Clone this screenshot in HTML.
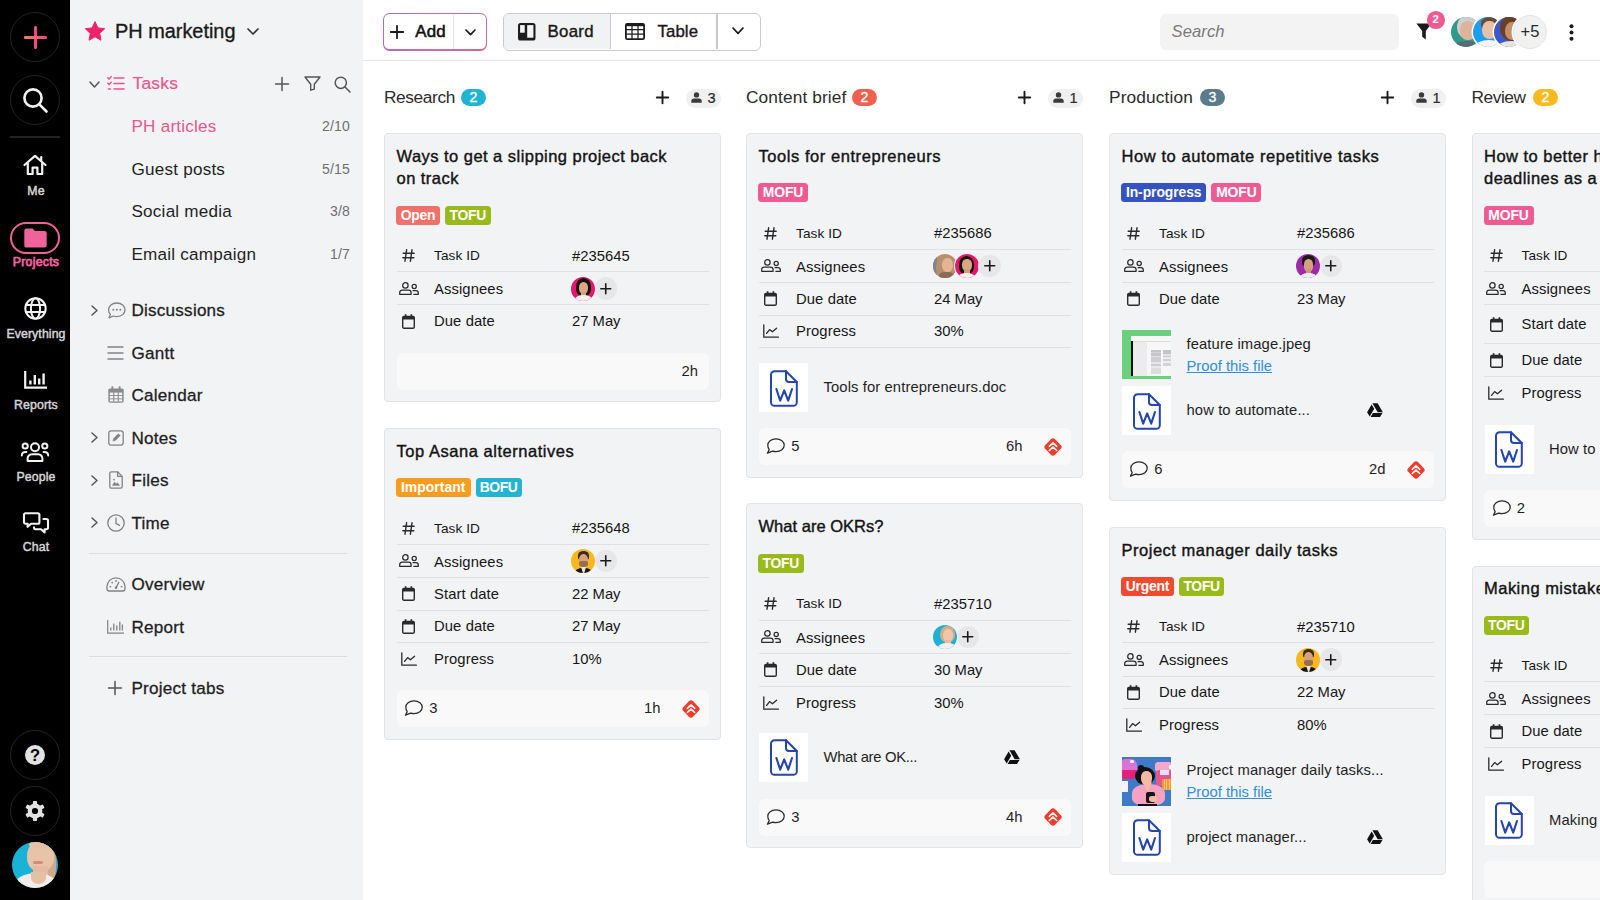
<!DOCTYPE html>
<html lang="en">
<head>
<meta charset="utf-8">
<title>PH marketing – Board</title>
<style>
*{box-sizing:border-box;margin:0;padding:0}
html,body{width:1600px;height:900px;overflow:hidden;background:#fff}
body{font-family:"Liberation Sans",Arial,sans-serif;color:#1c1c1c;position:relative;-webkit-font-smoothing:antialiased}
.abs{position:absolute}
svg{display:block;overflow:visible}
/* ---------- rail ---------- */
#rail{position:absolute;left:0;top:0;width:70px;height:900px;background:#000}
.rc{position:absolute;left:10px;width:50px;height:50px;border-radius:50%;border:1.5px solid #222}
.rl{position:absolute;left:1px;width:70px;text-align:center;font-size:12.3px;color:#d6d6d6;line-height:14px;-webkit-text-stroke:.45px #d6d6d6;letter-spacing:.1px}
.ri{position:absolute;left:0;width:70px;display:flex;justify-content:center}
/* ---------- sidebar ---------- */
#side{position:absolute;left:70px;top:0;width:293px;height:900px;background:#f2f3f5}
.sl{position:absolute;left:61.5px;font-size:17.1px;line-height:22px;color:#1f1f1f;white-space:nowrap;-webkit-text-stroke:.3px #1f1f1f;letter-spacing:.22px}
.sl.sub{-webkit-text-stroke:0}
.sc{position:absolute;right:13px;margin-top:-1px;font-size:14px;line-height:22px;color:#6f6f6f;letter-spacing:.2px}
.si{position:absolute}
.hr{position:absolute;left:19px;width:258px;height:1.5px;background:#dcdde0}
/* ---------- main ---------- */
#main{position:absolute;left:363px;top:0;width:1237px;height:900px;background:#fff;overflow:hidden}
#topline{position:absolute;left:0;top:60px;width:1237px;height:1px;background:#e1e2e4}
.col{position:absolute;top:0;width:337px}
.ch{position:absolute;left:0;top:86px;height:22px;font-size:17.3px;line-height:22px;color:#2b2b2b;white-space:nowrap}
.bd{position:absolute;top:89px;width:25px;height:17px;border-radius:9px;color:#fff;font-size:14.2px;line-height:17.5px;text-align:center;-webkit-text-stroke:.3px #fff}
.pp{position:absolute;left:302px;top:88.5px;width:35px;height:19px;border-radius:9.5px;background:#f0f0f1;font-size:14.6px;line-height:18.5px;color:#2a2a2a;-webkit-text-stroke:.2px #2a2a2a}
.card{position:absolute;left:0;width:337px;background:#f2f3f5;border:1px solid #e1e3e5;border-radius:4px;padding:11.5px 11.5px 0 11.5px}
.tt{position:relative;top:-.7px;font-size:16.5px;line-height:22.5px;color:#141414;-webkit-text-stroke:.4px #141414;white-space:nowrap;margin-bottom:15px}
.tags{height:19.5px;display:flex;gap:5px;margin-bottom:15px;margin-left:-.5px}
.tg{height:19.2px;border-radius:3.5px;color:#fff;font-size:13.9px;line-height:19.2px;font-weight:bold;white-space:nowrap;text-align:center;display:block;overflow:hidden}
.row{position:relative;height:32.7px;border-bottom:1.5px solid #dfe0e3;display:flex;align-items:center}
.row.nb{border-bottom-color:transparent}
.row .ic{position:absolute;left:3px;top:0;width:18px;height:100%;display:flex;align-items:center;justify-content:center}
.row .lb{position:absolute;left:37.5px;top:0;height:100%;display:flex;align-items:center;font-size:14.8px;color:#161616;white-space:nowrap;letter-spacing:.1px}
.row .lb.sm{font-size:13.6px}
.row .vl{position:absolute;left:175.5px;top:0;height:100%;display:flex;align-items:center;font-size:14.8px;color:#161616;white-space:nowrap}
.ft{position:relative;height:37px;border-radius:6px;background:#f9f9fa;margin-top:14.5px;font-size:14.8px;line-height:37px;color:#1f1f1f}
.att{position:relative;height:50px}
.att .th{position:absolute;left:.5px;top:.5px;width:49px;height:49px;background:#fff;overflow:hidden}
.att .nm{position:absolute;left:65px;font-size:14.8px;line-height:18px;color:#1f1f1f;white-space:nowrap;letter-spacing:.1px}
.att .pf{position:absolute;left:65px;top:27px;font-size:14.8px;line-height:18px;color:#2f8fd8;text-decoration:underline;white-space:nowrap}
.av{position:absolute;border-radius:50%;overflow:hidden}
</style>
</head>
<body>
<div id="rail">
<div class="rc" style="top:12.3px"></div>
<svg class="abs" style="left:23.5px;top:25.8px" width="23" height="23" viewBox="0 0 23 23"><defs><linearGradient id="gp" x1="0" y1="0" x2="1" y2="0"><stop offset="0" stop-color="#f5835c"/><stop offset="1" stop-color="#f0457d"/></linearGradient></defs><rect x="10" y="0" width="3" height="23" rx="1.2" fill="#f04a80"/><rect x="0" y="10" width="23" height="3" rx="1.2" fill="url(#gp)"/></svg>
<div class="rc" style="top:75px"></div>
<svg class="abs" style="left:21px;top:86px" width="28" height="28" viewBox="0 0 28 28" fill="none" stroke="#f2f2f2" stroke-width="2.6" stroke-linecap="round"><circle cx="12" cy="12" r="8.6"/><path d="M18.6 18.6 L25.5 25.5"/></svg>
<div class="abs" style="left:10px;top:136px;width:50px;height:1.5px;background:#242424"></div>
<svg class="abs" style="left:23px;top:154px" width="24" height="22" viewBox="0 0 24 22" fill="none" stroke="#f2f2f2" stroke-width="2.2" stroke-linejoin="round" stroke-linecap="round"><path d="M1.5 11 L12 1.8 L22.5 11"/><path d="M4.8 9.2 V20 H9.6 V13.6 H14.4 V20 H19.2 V9.2"/><path d="M18.2 3.2 V6.6"/></svg>
<div class="rl" style="top:184px">Me</div>
<div class="abs" style="left:10px;top:221.5px;width:50px;height:32px;border-radius:16px;border:2.5px solid #f0629a"></div>
<svg class="abs" style="left:23.5px;top:227.5px" width="23" height="20" viewBox="0 0 23 20"><path d="M2.5 0.5 H8.6 L11 3 H20.5 A2.2 2.2 0 0 1 22.7 5.2 V17.3 A2.2 2.2 0 0 1 20.5 19.5 H2.5 A2.2 2.2 0 0 1 0.3 17.3 V2.7 A2.2 2.2 0 0 1 2.5 0.5 Z" fill="#f0629a"/></svg>
<div class="rl" style="top:255px;color:#f0629a;-webkit-text-stroke:.75px #f0629a;letter-spacing:.25px">Projects</div>
<svg class="abs" style="left:23.5px;top:297px" width="23" height="23" viewBox="0 0 23 23" fill="none" stroke="#f2f2f2" stroke-width="2"><circle cx="11.5" cy="11.5" r="10.2"/><ellipse cx="11.5" cy="11.5" rx="4.6" ry="10.2"/><path d="M2 8 H21 M2 15 H21"/></svg>
<div class="rl" style="top:326.5px">Everything</div>
<svg class="abs" style="left:23.5px;top:370.5px" width="23" height="18" viewBox="0 0 23 18" fill="none" stroke="#f2f2f2" stroke-width="2.2" stroke-linecap="butt"><path d="M1.2 0 V16.6 H23"/><path d="M6.4 13.4 V9.6 M10.8 13.4 V4 M15.2 13.4 V7.4 M19.6 13.4 V2.4" stroke-width="2.4"/></svg>
<div class="rl" style="top:397.5px">Reports</div>
<svg class="abs" style="left:21px;top:441.5px" width="28" height="20" viewBox="0 0 28 20" fill="none" stroke="#f2f2f2" stroke-width="2"><circle cx="14" cy="5.2" r="4"/><circle cx="4.2" cy="4" r="2.6"/><circle cx="23.8" cy="4" r="2.6"/><path d="M6.6 19 H21.4 V16.4 A4.2 4.2 0 0 0 17.2 12.2 H10.8 A4.2 4.2 0 0 0 6.6 16.4 Z" stroke-linejoin="round"/><path d="M0.8 13.4 C0.8 10.8 2.6 9.8 5.4 10" stroke-linecap="round"/><path d="M27.2 13.4 C27.2 10.8 25.4 9.8 22.6 10" stroke-linecap="round"/></svg>
<div class="rl" style="top:469.5px">People</div>
<svg class="abs" style="left:22.5px;top:511.5px" width="26" height="22" viewBox="0 0 26 22" fill="none" stroke="#f2f2f2" stroke-width="2.1" stroke-linejoin="round"><path d="M2.6 1.2 H14.8 A1.6 1.6 0 0 1 16.4 2.8 V10.2 A1.6 1.6 0 0 1 14.8 11.8 H8 L4.6 14.8 V11.8 H2.6 A1.6 1.6 0 0 1 1 10.2 V2.8 A1.6 1.6 0 0 1 2.6 1.2 Z"/><path d="M19.6 7 H23.4 A1.6 1.6 0 0 1 25 8.6 V15.6 A1.6 1.6 0 0 1 23.4 17.2 H21.6 V20.4 L18 17.2 H12.6 A1.6 1.6 0 0 1 11 15.6 V14.6"/></svg>
<div class="rl" style="top:540px">Chat</div>
<div class="rc" style="top:729.5px"></div>
<div class="abs" style="left:25px;top:744.5px;width:20px;height:20px;border-radius:50%;background:#e2e2e2;color:#000;text-align:center;font-size:16.5px;line-height:20.5px;font-weight:bold">?</div>
<div class="rc" style="top:785.5px"></div>
<svg class="abs" style="left:25px;top:800.5px" width="20" height="20" viewBox="0 0 20 20"><g fill="#e2e2e2"><circle cx="10" cy="10" r="7.4"/><g id="gt"><rect x="7.9" y="0" width="4.2" height="20" rx="1"/></g><use href="#gt" transform="rotate(60 10 10)"/><use href="#gt" transform="rotate(120 10 10)"/></g><circle cx="10" cy="10" r="3.1" fill="#000"/></svg>
<div class="av" style="left:11.7px;top:841.7px;width:46.5px;height:46.5px;background:#1ab2d7">
 <div class="abs" style="left:30px;top:4px;width:14px;height:36px;border-radius:40%;background:#d3a98a"></div>
 <div class="abs" style="left:15px;top:-1px;width:27px;height:31px;border-radius:48% 48% 46% 46%;background:#e9c3a8"></div>
 <div class="abs" style="left:17px;top:-2px;width:24px;height:9px;border-radius:50%;background:#e5c2a4"></div>
 <div class="abs" style="left:21px;top:24px;width:15px;height:14px;background:#e4bba0"></div>
 <div class="abs" style="left:21px;top:19.5px;width:10px;height:2.5px;border-radius:40%;background:#c98f7c"></div>
 <div class="abs" style="left:3px;top:31px;width:42px;height:24px;border-radius:50% 50% 0 0;background:#f0ece9"></div>
 <div class="abs" style="left:19px;top:30px;width:15px;height:12px;border-radius:0 0 50% 50%;background:#e6c0a6"></div>
</div>
</div>
<div id="side">
<svg class="si" style="left:15px;top:21px" width="20" height="20" viewBox="0 0 20 20"><path d="M10 0.6 L12.9 6.9 L19.7 7.7 L14.7 12.4 L16 19.2 L10 15.8 L4 19.2 L5.3 12.4 L0.3 7.7 L7.1 6.9 Z" fill="#ee2268" stroke="#ee2268" stroke-width="1" stroke-linejoin="round"/></svg>
<div class="abs" id="pname" style="left:45px;top:19px;font-size:19.9px;line-height:24px;color:#1a1a1a;white-space:nowrap;-webkit-text-stroke:.35px #1a1a1a">PH marketing</div>
<svg class="si" style="left:176.5px;top:28px" width="12" height="7" viewBox="0 0 12 7" fill="none" stroke="#333" stroke-width="1.7" stroke-linecap="round" stroke-linejoin="round"><path d="M1 1 L6 6 L11 1"/></svg>

<svg class="si" style="left:18.5px;top:80.5px" width="11" height="7" viewBox="0 0 11 7" fill="none" stroke="#555" stroke-width="1.5" stroke-linecap="round" stroke-linejoin="round"><path d="M1 1 L5.5 6 L10 1"/></svg>
<svg class="si" style="left:37px;top:76px" width="18" height="15" viewBox="0 0 18 15" fill="none" stroke="#e8568c" stroke-width="1.6" stroke-linecap="round" stroke-linejoin="round"><path d="M7 2 H17 M7 7.5 H17 M7 13 H17"/><path d="M0.8 1.8 L2 3 L4.2 0.8 M0.8 7.3 L2 8.5 L4.2 6.3"/><path d="M1.4 13 H3.4"/></svg>
<div class="sl" style="top:72px;color:#e8568c;-webkit-text-stroke:.2px #e8568c;left:62.5px;font-size:17.4px">Tasks</div>
<svg class="si" style="left:204.5px;top:76.5px" width="14" height="14" viewBox="0 0 14 14" fill="none" stroke="#555" stroke-width="1.5" stroke-linecap="round"><path d="M7 0.5 V13.5 M0.5 7 H13.5"/></svg>
<svg class="si" style="left:234px;top:76px" width="17" height="15" viewBox="0 0 17 15" fill="none" stroke="#555" stroke-width="1.4" stroke-linejoin="round"><path d="M1 1 H16 L10.3 8.2 V13.2 L6.7 14.2 V8.2 Z"/></svg>
<svg class="si" style="left:263.5px;top:75.5px" width="17" height="17" viewBox="0 0 17 17" fill="none" stroke="#555" stroke-width="1.5" stroke-linecap="round"><circle cx="6.8" cy="6.8" r="5.6"/><path d="M11 11 L16 16"/></svg>

<div class="sl sub" style="top:116px;color:#e8568c">PH articles</div><div class="sc" style="top:116px">2/10</div>
<div class="sl sub" style="top:159px">Guest posts</div><div class="sc" style="top:159px">5/15</div>
<div class="sl sub" style="top:201px">Social media</div><div class="sc" style="top:201px">3/8</div>
<div class="sl sub" style="top:243.5px">Email campaign</div><div class="sc" style="top:243.5px">1/7</div>

<svg class="si" style="left:21px;top:304.5px" width="7" height="11" viewBox="0 0 7 11" fill="none" stroke="#555" stroke-width="1.5" stroke-linecap="round" stroke-linejoin="round"><path d="M1 1 L6 5.5 L1 10"/></svg>
<svg class="si" style="left:36.5px;top:301.5px" width="19" height="17" viewBox="0 0 19 17" fill="none" stroke="#828282" stroke-width="1.3" stroke-linejoin="round"><path d="M9.8 1 C14.6 1 18 4 18 7.8 C18 11.6 14.6 14.6 9.8 14.6 C8.6 14.6 7.4 14.4 6.4 14 L2 15.8 L3.4 12.4 C2.2 11.2 1.6 9.6 1.6 7.8 C1.6 4 5 1 9.8 1 Z"/><g fill="#828282" stroke="none"><circle cx="6.3" cy="7.8" r="1"/><circle cx="9.8" cy="7.8" r="1"/><circle cx="13.3" cy="7.8" r="1"/></g></svg>
<div class="sl" style="top:300px">Discussions</div>
<svg class="si" style="left:37px;top:345.5px" width="17" height="14" viewBox="0 0 17 14" fill="none" stroke="#828282" stroke-width="1.4" stroke-linecap="round"><path d="M1 1 H16 M1 7 H16 M1 13 H16"/></svg>
<div class="sl" style="top:342.5px">Gantt</div>
<svg class="si" style="left:37.5px;top:385.5px" width="16" height="17" viewBox="0 0 16 17"><rect x="0.3" y="2.4" width="15.4" height="14.3" rx="1.8" fill="#8a8a8a"/><rect x="3.4" y="0.2" width="1.9" height="3.4" rx=".6" fill="#8a8a8a"/><rect x="10.7" y="0.2" width="1.9" height="3.4" rx=".6" fill="#8a8a8a"/><g fill="#f2f3f5"><rect x="1.8" y="6.6" width="3.4" height="2.5"/><rect x="6.3" y="6.6" width="3.4" height="2.5"/><rect x="10.8" y="6.6" width="3.4" height="2.5"/><rect x="1.8" y="10" width="3.4" height="2.4"/><rect x="6.3" y="10" width="3.4" height="2.4"/><rect x="10.8" y="10" width="3.4" height="2.4"/><rect x="1.8" y="13.3" width="3.4" height="2.2"/><rect x="6.3" y="13.3" width="3.4" height="2.2"/><rect x="10.8" y="13.3" width="3.4" height="2.2"/></g></svg>
<div class="sl" style="top:385px">Calendar</div>
<svg class="si" style="left:21px;top:432.0px" width="7" height="11" viewBox="0 0 7 11" fill="none" stroke="#555" stroke-width="1.5" stroke-linecap="round" stroke-linejoin="round"><path d="M1 1 L6 5.5 L1 10"/></svg>
<svg class="si" style="left:37.5px;top:429.5px" width="16" height="16" viewBox="0 0 16 16" fill="none" stroke="#828282" stroke-width="1.3" stroke-linejoin="round"><rect x="0.8" y="0.8" width="14.4" height="14.4" rx="2.4"/><path d="M5 11 L5.6 8.6 L10.4 3.8 L12.2 5.6 L7.4 10.4 Z" fill="#828282" stroke-width=".6"/></svg>
<div class="sl" style="top:427.5px">Notes</div>
<svg class="si" style="left:21px;top:474.5px" width="7" height="11" viewBox="0 0 7 11" fill="none" stroke="#555" stroke-width="1.5" stroke-linecap="round" stroke-linejoin="round"><path d="M1 1 L6 5.5 L1 10"/></svg>
<svg class="si" style="left:38.5px;top:471px" width="14" height="18" viewBox="0 0 14 18" fill="none" stroke="#828282" stroke-width="1.3" stroke-linejoin="round"><path d="M2.4 0.8 H8.6 L13.2 5.4 V15.6 A1.6 1.6 0 0 1 11.6 17.2 H2.4 A1.6 1.6 0 0 1 0.8 15.6 V2.4 A1.6 1.6 0 0 1 2.4 0.8 Z"/><path d="M8.6 0.8 V5.4 H13.2"/><path d="M3.4 14.4 L5.6 11 L7.2 13 L8.6 11.8 L10.6 14.4 Z" fill="#828282" stroke-width=".5"/><circle cx="5" cy="8.6" r=".9" fill="#828282" stroke="none"/></svg>
<div class="sl" style="top:470px">Files</div>
<svg class="si" style="left:21px;top:517.0px" width="7" height="11" viewBox="0 0 7 11" fill="none" stroke="#555" stroke-width="1.5" stroke-linecap="round" stroke-linejoin="round"><path d="M1 1 L6 5.5 L1 10"/></svg>
<svg class="si" style="left:36.5px;top:513.5px" width="18" height="18" viewBox="0 0 18 18" fill="none" stroke="#828282" stroke-width="1.3" stroke-linecap="round" stroke-linejoin="round"><circle cx="9" cy="9" r="8.2"/><path d="M9 4 V9.4 L12.4 11.4"/></svg>
<div class="sl" style="top:512.5px">Time</div>
<div class="hr" style="top:552.5px"></div>
<svg class="si" style="left:36px;top:577px" width="20" height="15" viewBox="0 0 20 15" fill="none" stroke="#828282" stroke-width="1.3" stroke-linejoin="round" stroke-linecap="round"><path d="M3.2 14 A2.2 2.2 0 0 1 1 11.8 V9.6 A9 8.8 0 0 1 19 9.6 V11.8 A2.2 2.2 0 0 1 16.800000000000001 14 Z"/><path d="M10 10.6 L12.8 5.4"/><circle cx="10" cy="10.8" r="1.3" fill="#828282" stroke="none"/><g fill="#828282" stroke="none"><circle cx="4.4" cy="9.6" r=".9"/><circle cx="6.2" cy="5.6" r=".9"/><circle cx="10" cy="4" r=".9"/><circle cx="15.6" cy="9.6" r=".9"/></g></svg>
<div class="sl" style="top:574px">Overview</div>
<svg class="si" style="left:37px;top:619.5px" width="17" height="14" viewBox="0 0 17 14" fill="none" stroke="#828282" stroke-width="1.2"><path d="M0.7 0 V13.2 H17"/><path d="M3.8 10.6 V7.6 M6.8 10.6 V3.4 M9.8 10.6 V5.6 M12.8 10.6 V1.8 M15.4 10.6 V4.6" stroke-width="1.3"/></svg>
<div class="sl" style="top:616.5px">Report</div>
<div class="hr" style="top:655.5px"></div>
<svg class="si" style="left:38px;top:680.5px" width="14" height="14" viewBox="0 0 14 14" fill="none" stroke="#555" stroke-width="1.5" stroke-linecap="round"><path d="M7 0.5 V13.5 M0.5 7 H13.5"/></svg>
<div class="sl" style="top:677.5px">Project tabs</div>
</div>
<div id="main"><div id="topline"></div>
<!-- Add button -->
<div class="abs" style="left:20px;top:13px;width:104px;height:37.5px;border-radius:6.5px;background:linear-gradient(100deg,#b06cb8 0%,#c86fa6 45%,#d9668a 100%);"></div>
<div class="abs" style="left:21.2px;top:14.2px;width:101.6px;height:35.1px;border-radius:5.3px;background:#fff"></div>
<svg class="abs" style="left:27px;top:25px" width="14" height="14" viewBox="0 0 14 14" fill="none" stroke="#1a1a1a" stroke-width="1.8" stroke-linecap="round"><path d="M7 0.8 V13.2 M0.8 7 H13.2"/></svg>
<div class="abs" style="left:52.3px;top:20.5px;font-size:16.9px;line-height:22px;color:#111;letter-spacing:.15px;-webkit-text-stroke:.55px #111">Add</div>
<div class="abs" style="left:89.5px;top:14.5px;width:1.5px;height:34.5px;background:#e6e6e8"></div>
<svg class="abs" style="left:101.5px;top:28.5px" width="11" height="7" viewBox="0 0 11 7" fill="none" stroke="#1a1a1a" stroke-width="1.7" stroke-linecap="round" stroke-linejoin="round"><path d="M1 1 L5.5 5.6 L10 1"/></svg>
<!-- Board / Table -->
<div class="abs" style="left:139.5px;top:13px;width:258.5px;height:37.5px;border-radius:6px;border:1.5px solid #c9cacd;background:#fff;overflow:hidden">
 <div class="abs" style="left:0;top:0;width:106px;height:35px;background:#f1f2f4"></div>
 <div class="abs" style="left:106px;top:0;width:1.5px;height:35px;background:#c9cacd"></div>
 <div class="abs" style="left:212.5px;top:0;width:1.5px;height:35px;background:#c9cacd"></div>
</div>
<svg class="abs" style="left:154.5px;top:23px" width="17.5" height="17.5" viewBox="0 0 17.5 17.5"><rect x="0" y="0" width="17.5" height="17.5" rx="2.6" fill="#1d1d1d"/><rect x="2.1" y="2.1" width="4.6" height="7.6" fill="#f4f5f7"/><rect x="9.2" y="2.1" width="6.2" height="12.6" fill="#f4f5f7"/></svg>
<div class="abs" style="left:184.5px;top:20.5px;font-size:16.8px;line-height:22px;color:#1a1a1a;-webkit-text-stroke:.4px #1a1a1a;letter-spacing:.3px">Board</div>
<svg class="abs" style="left:262px;top:23.2px" width="20" height="17" viewBox="0 0 20 17" fill="none" stroke="#1d1d1d"><rect x="0.9" y="0.9" width="18.2" height="15.2" rx="1.4" stroke-width="1.8"/><path d="M0.9 2 H19.1" stroke-width="2.4"/><path d="M0.9 6.6 H19.1 M0.9 11.2 H19.1 M7 0.9 V16.1 M13 0.9 V16.1" stroke-width="1.25"/></svg>
<div class="abs" style="left:294.5px;top:20.5px;font-size:16.8px;line-height:22px;color:#1a1a1a;-webkit-text-stroke:.4px #1a1a1a;letter-spacing:.1px">Table</div>
<svg class="abs" style="left:368.5px;top:27px" width="12" height="8" viewBox="0 0 12 8" fill="none" stroke="#1a1a1a" stroke-width="1.7" stroke-linecap="round" stroke-linejoin="round"><path d="M1 1 L6 6.4 L11 1"/></svg>
<!-- Search -->
<div class="abs" style="left:797px;top:13.5px;width:238.5px;height:36.5px;border-radius:6px;background:#f3f3f4"></div>
<div class="abs" style="left:808.5px;top:21px;font-size:16.6px;line-height:22px;font-style:italic;color:#7a7a7a;letter-spacing:.1px">Search</div>
<!-- filter -->
<svg class="abs" style="left:1053px;top:22.5px" width="16" height="17" viewBox="0 0 16 17"><path d="M0.4 0.4 H15.6 L9.8 8 V16.6 L6.2 13.8 V8 Z" fill="#1a1a1a"/></svg>
<div class="abs" style="left:1064px;top:11px;width:17.5px;height:17.5px;border-radius:50%;background:#ee5b93;color:#fff;font-size:11.5px;line-height:17.5px;text-align:center;font-weight:bold">2</div>
<!-- avatars -->
<div class="av" style="left:1088px;top:16.5px;width:30px;height:30px;background:#2f9a8c"><div class="abs" style="left:6px;top:-2px;width:22px;height:24px;border-radius:50%;background:#cfcfcf"></div><div class="abs" style="left:9px;top:4px;width:16px;height:19px;border-radius:46%;background:#dcb49c"></div><div class="abs" style="left:2px;top:24px;width:28px;height:14px;border-radius:50% 50% 0 0;background:#5c6a72"></div></div>
<div class="av" style="left:1109.5px;top:16.5px;width:30px;height:30px;background:#1e9cf0;box-shadow:0 0 0 1.5px #fff"><div class="abs" style="left:8px;top:0;width:17px;height:12px;border-radius:50% 50% 30% 30%;background:#6b4a36"></div><div class="abs" style="left:9px;top:4px;width:15px;height:18px;border-radius:46%;background:#e8c0a4"></div><div class="abs" style="left:2px;top:23px;width:28px;height:14px;border-radius:50% 50% 0 0;background:#f4f4f6"></div></div>
<div class="av" style="left:1131px;top:16.5px;width:30px;height:30px;background:#3e58c8;box-shadow:0 0 0 1.5px #fff"><div class="abs" style="left:6px;top:-2px;width:24px;height:26px;border-radius:50%;background:#6a3f28"></div><div class="abs" style="left:11px;top:5px;width:15px;height:18px;border-radius:46%;background:#c48e6a"></div><div class="abs" style="left:3px;top:24px;width:28px;height:14px;border-radius:50% 50% 0 0;background:#e9e4e0"></div></div>
<div class="abs" style="left:1150px;top:15px;width:34px;height:34px;border-radius:50%;background:#f1f1f2;border:1.5px solid #e4e4e6;box-shadow:0 0 0 1.5px #fff;font-size:16.5px;line-height:31px;text-align:center;color:#2a2a2a">+5</div>
<!-- kebab -->
<svg class="abs" style="left:1205.5px;top:23.5px" width="5" height="17" viewBox="0 0 5 17" fill="#1a1a1a"><circle cx="2.5" cy="2.2" r="2"/><circle cx="2.5" cy="8.5" r="2"/><circle cx="2.5" cy="14.8" r="2"/></svg>
<!--COLS-->
<div class="col" style="left:21px"><div class="ch" style="letter-spacing:-0.371px">Research</div><div class="bd" style="left:77px;background:#1fb4d3">2</div><svg class="abs" style="left:272px;top:90.5px" width="13" height="13" viewBox="0 0 13 13" fill="none" stroke="#1a1a1a" stroke-width="1.9" stroke-linecap="round"><path d="M6.5 0.8 V12.2 M0.8 6.5 H12.2"/></svg><div class="pp"><svg class="abs" style="left:5.2px;top:3.6px" width="11" height="11" viewBox="0 0 11 11" fill="#3a3a3a"><circle cx="5.5" cy="2.9" r="2.7"/><path d="M0.3 10.8 V9.2 A2.8 2.8 0 0 1 3.1 6.4 H7.9 A2.8 2.8 0 0 1 10.7 9.2 V10.8 Z"/></svg><span class="abs" style="left:21.5px;top:0">3</span></div><div class="card" style="top:133px;height:269px"><div class="tt" style="letter-spacing:0.461px">Ways to get a slipping project back<br>on track</div><div class="tags"><span class="tg" style="background:#f0716a;width:44px;letter-spacing:-0.25px"><span>Open</span></span><span class="tg" style="background:#9aba1b;width:45.5px;letter-spacing:-0.266px"><span>TOFU</span></span></div><div class="row" style="height:32.3px"><div class="ic"><svg width="13" height="13" viewBox="0 0 13 13" fill="none" stroke="#2a2a2a" stroke-width="1.4" stroke-linecap="round"><path d="M4.6 0.8 L3 12.2 M10 0.8 L8.4 12.2 M1.2 4.2 H12.2 M0.8 8.8 H11.8"/></svg></div><div class="lb sm">Task ID</div><div class="vl">#235645</div></div><div class="row" style="height:33.1px"><div class="ic"><svg width="20" height="13" viewBox="0 0 20 13" fill="none" stroke="#2a2a2a" stroke-width="1.25" stroke-linejoin="round"><circle cx="6.4" cy="3.4" r="2.7"/><path d="M0.7 12.3 V10.6 A2.6 2.6 0 0 1 3.3 8 H9.5 A2.6 2.6 0 0 1 12.1 10.6 V12.3 Z"/><circle cx="15.2" cy="4.4" r="2.1"/><path d="M13.6 8.6 H17 A2.3 2.3 0 0 1 19.3 10.9 V12.3 H14.4"/></svg></div><div class="lb" style="top:.8px">Assignees</div><div class="av" style="left:174.6px;top:4.3px;width:24px;height:24px;background:#e2196b"><div class="abs" style="left:4.5px;top:1.5px;width:15px;height:18px;border-radius:48% 48% 40% 40%;background:#1a1210"></div><div class="abs" style="left:7.5px;top:5px;width:9.5px;height:12px;border-radius:46%;background:#dca883"></div><div class="abs" style="left:9.5px;top:15px;width:5.5px;height:5px;background:#d39f7b"></div><div class="abs" style="left:3.5px;top:18.5px;width:17px;height:9px;border-radius:50% 50% 0 0;background:#f3efec"></div></div><div class="abs" style="left:198.2px;top:5px;width:22.6px;height:22.6px;border-radius:50%;background:#e7e7ea"></div><svg class="abs" style="left:203.75px;top:10.55px" width="11.5" height="11.5" viewBox="0 0 11.5 11.5" fill="none" stroke="#1a1a1a" stroke-width="1.6" stroke-linecap="round"><path d="M5.75 0.8 V10.7 M0.8 5.75 H10.7"/></svg></div><div class="row nb" style="height:32.7px"><div class="ic"><svg width="13" height="15" viewBox="0 0 13 15" fill="none" stroke="#2a2a2a"><rect x="0.7" y="2.4" width="11.6" height="11.8" rx="1.3" stroke-width="1.4"/><path d="M0.7 4.2 H12.3" stroke-width="2.6"/><path d="M3.6 0.2 V3 M9.4 0.2 V3" stroke-width="1.7"/></svg></div><div class="lb">Due date</div><div class="vl">27 May</div></div><div class="ft"><div class="abs" style="right:10.5px;top:0">2h</div></div></div><div class="card" style="top:428px;height:312px"><div class="tt" style="letter-spacing:0.535px">Top Asana alternatives</div><div class="tags"><span class="tg" style="background:#f79d1e;width:74.5px;letter-spacing:0.06px"><span>Important</span></span><span class="tg" style="background:#22b4d3;width:46px;letter-spacing:-0.465px"><span>BOFU</span></span></div><div class="row" style="height:32.3px"><div class="ic"><svg width="13" height="13" viewBox="0 0 13 13" fill="none" stroke="#2a2a2a" stroke-width="1.4" stroke-linecap="round"><path d="M4.6 0.8 L3 12.2 M10 0.8 L8.4 12.2 M1.2 4.2 H12.2 M0.8 8.8 H11.8"/></svg></div><div class="lb sm">Task ID</div><div class="vl">#235648</div></div><div class="row" style="height:33.1px"><div class="ic"><svg width="20" height="13" viewBox="0 0 20 13" fill="none" stroke="#2a2a2a" stroke-width="1.25" stroke-linejoin="round"><circle cx="6.4" cy="3.4" r="2.7"/><path d="M0.7 12.3 V10.6 A2.6 2.6 0 0 1 3.3 8 H9.5 A2.6 2.6 0 0 1 12.1 10.6 V12.3 Z"/><circle cx="15.2" cy="4.4" r="2.1"/><path d="M13.6 8.6 H17 A2.3 2.3 0 0 1 19.3 10.9 V12.3 H14.4"/></svg></div><div class="lb" style="top:.8px">Assignees</div><div class="av" style="left:174.6px;top:4.3px;width:24px;height:24px;background:#f6b81c"><div class="abs" style="left:7px;top:1.5px;width:10.5px;height:9px;border-radius:50% 50% 30% 30%;background:#3a2a22"></div><div class="abs" style="left:7.5px;top:4.5px;width:9.5px;height:13px;border-radius:44%;background:#d8a27c"></div><div class="abs" style="left:8px;top:12px;width:8.5px;height:6px;border-radius:30% 30% 50% 50%;background:#9a6c50"></div><div class="abs" style="left:4px;top:19px;width:16.5px;height:9px;border-radius:45% 45% 0 0;background:#15161a"></div><div class="abs" style="left:10px;top:18px;width:5px;height:8px;background:#e9e4e0;clip-path:polygon(0 0,100% 0,50% 100%)"></div></div><div class="abs" style="left:198.2px;top:5px;width:22.6px;height:22.6px;border-radius:50%;background:#e7e7ea"></div><svg class="abs" style="left:203.75px;top:10.55px" width="11.5" height="11.5" viewBox="0 0 11.5 11.5" fill="none" stroke="#1a1a1a" stroke-width="1.6" stroke-linecap="round"><path d="M5.75 0.8 V10.7 M0.8 5.75 H10.7"/></svg></div><div class="row" style="height:32.7px"><div class="ic"><svg width="13" height="15" viewBox="0 0 13 15" fill="none" stroke="#2a2a2a"><rect x="0.7" y="2.4" width="11.6" height="11.8" rx="1.3" stroke-width="1.4"/><path d="M0.7 4.2 H12.3" stroke-width="2.6"/><path d="M3.6 0.2 V3 M9.4 0.2 V3" stroke-width="1.7"/></svg></div><div class="lb">Start date</div><div class="vl">22 May</div></div><div class="row" style="height:32.7px"><div class="ic"><svg width="13" height="15" viewBox="0 0 13 15" fill="none" stroke="#2a2a2a"><rect x="0.7" y="2.4" width="11.6" height="11.8" rx="1.3" stroke-width="1.4"/><path d="M0.7 4.2 H12.3" stroke-width="2.6"/><path d="M3.6 0.2 V3 M9.4 0.2 V3" stroke-width="1.7"/></svg></div><div class="lb">Due date</div><div class="vl">27 May</div></div><div class="row nb" style="height:32.7px"><div class="ic"><svg width="16" height="14" viewBox="0 0 16 14" fill="none" stroke="#2a2a2a" stroke-width="1.3" stroke-linecap="round" stroke-linejoin="round"><path d="M0.8 0.8 V13.2 H15.4"/><path d="M3.6 9.4 L6.6 5.6 L9.4 7.8 L13.6 4.2"/></svg></div><div class="lb">Progress</div><div class="vl">10%</div></div><div class="ft"><svg class="abs" style="left:7.8px;top:10px" width="19" height="16" viewBox="0 0 19 16" fill="none" stroke="#2a2a2a" stroke-width="1.25" stroke-linejoin="round"><path d="M10 0.8 C14.8 0.8 18.2 3.6 18.2 7.2 C18.2 10.8 14.8 13.6 10 13.6 C8.8 13.6 7.6 13.4 6.6 13.1 L1.4 15.2 L3.2 11.6 C2.2 10.4 1.8 8.9 1.8 7.2 C1.8 3.6 5.2 0.8 10 0.8 Z"/></svg><div class="abs" style="left:32.8px;top:0">3</div><div class="abs" style="right:48px;top:0">1h</div><svg class="abs" style="right:7.5px;top:8.5px" width="20" height="20" viewBox="0 0 20 20"><rect x="3.1" y="3.1" width="13.8" height="13.8" rx="3" transform="rotate(45 10 10)" fill="#ea3f2e"/><path d="M6.3 9.3 L10 5.9 L13.7 9.3 M6.3 13.5 L10 10.1 L13.7 13.5" fill="none" stroke="#fff" stroke-width="1.6" stroke-linecap="round" stroke-linejoin="round"/></svg></div></div></div>
<div class="col" style="left:383px"><div class="ch" style="letter-spacing:0.111px">Content brief</div><div class="bd" style="left:106px;background:#f0604f">2</div><svg class="abs" style="left:272px;top:90.5px" width="13" height="13" viewBox="0 0 13 13" fill="none" stroke="#1a1a1a" stroke-width="1.9" stroke-linecap="round"><path d="M6.5 0.8 V12.2 M0.8 6.5 H12.2"/></svg><div class="pp"><svg class="abs" style="left:5.2px;top:3.6px" width="11" height="11" viewBox="0 0 11 11" fill="#3a3a3a"><circle cx="5.5" cy="2.9" r="2.7"/><path d="M0.3 10.8 V9.2 A2.8 2.8 0 0 1 3.1 6.4 H7.9 A2.8 2.8 0 0 1 10.7 9.2 V10.8 Z"/></svg><span class="abs" style="left:21.5px;top:0">1</span></div><div class="card" style="top:133px;height:344.5px"><div class="tt" style="letter-spacing:0.557px">Tools for entrepreneurs</div><div class="tags"><span class="tg" style="background:#ee5b93;width:50px;letter-spacing:-0.102px"><span>MOFU</span></span></div><div class="row" style="height:32.3px"><div class="ic"><svg width="13" height="13" viewBox="0 0 13 13" fill="none" stroke="#2a2a2a" stroke-width="1.4" stroke-linecap="round"><path d="M4.6 0.8 L3 12.2 M10 0.8 L8.4 12.2 M1.2 4.2 H12.2 M0.8 8.8 H11.8"/></svg></div><div class="lb sm">Task ID</div><div class="vl">#235686</div></div><div class="row" style="height:33.1px"><div class="ic"><svg width="20" height="13" viewBox="0 0 20 13" fill="none" stroke="#2a2a2a" stroke-width="1.25" stroke-linejoin="round"><circle cx="6.4" cy="3.4" r="2.7"/><path d="M0.7 12.3 V10.6 A2.6 2.6 0 0 1 3.3 8 H9.5 A2.6 2.6 0 0 1 12.1 10.6 V12.3 Z"/><circle cx="15.2" cy="4.4" r="2.1"/><path d="M13.6 8.6 H17 A2.3 2.3 0 0 1 19.3 10.9 V12.3 H14.4"/></svg></div><div class="lb" style="top:.8px">Assignees</div><div class="av" style="left:174.6px;top:4.3px;width:24px;height:24px;background:#b48f72"><div class="abs" style="left:-1px;top:0;width:5px;height:24px;background:#7c8591"></div><div class="abs" style="left:3px;top:1px;width:19px;height:24px;border-radius:50% 50% 40% 40%;background:#b98f6c"></div><div class="abs" style="left:9px;top:4px;width:10.5px;height:14px;border-radius:46%;background:#e3b596"></div><div class="abs" style="left:6px;top:18px;width:15px;height:8px;border-radius:40% 40% 0 0;background:#8c6a58"></div></div><div class="av" style="left:196.1px;top:4.3px;width:24px;height:24px;background:#e2196b;box-shadow:0 0 0 1px #f2f3f5"><div class="abs" style="left:4.5px;top:1.5px;width:15px;height:18px;border-radius:48% 48% 40% 40%;background:#1a1210"></div><div class="abs" style="left:7.5px;top:5px;width:9.5px;height:12px;border-radius:46%;background:#dca883"></div><div class="abs" style="left:9.5px;top:15px;width:5.5px;height:5px;background:#d39f7b"></div><div class="abs" style="left:3.5px;top:18.5px;width:17px;height:9px;border-radius:50% 50% 0 0;background:#f3efec"></div></div><div class="abs" style="left:219.7px;top:5px;width:22.6px;height:22.6px;border-radius:50%;background:#e7e7ea"></div><svg class="abs" style="left:225.25px;top:10.55px" width="11.5" height="11.5" viewBox="0 0 11.5 11.5" fill="none" stroke="#1a1a1a" stroke-width="1.6" stroke-linecap="round"><path d="M5.75 0.8 V10.7 M0.8 5.75 H10.7"/></svg></div><div class="row" style="height:32.7px"><div class="ic"><svg width="13" height="15" viewBox="0 0 13 15" fill="none" stroke="#2a2a2a"><rect x="0.7" y="2.4" width="11.6" height="11.8" rx="1.3" stroke-width="1.4"/><path d="M0.7 4.2 H12.3" stroke-width="2.6"/><path d="M3.6 0.2 V3 M9.4 0.2 V3" stroke-width="1.7"/></svg></div><div class="lb">Due date</div><div class="vl">24 May</div></div><div class="row" style="height:32.7px"><div class="ic"><svg width="16" height="14" viewBox="0 0 16 14" fill="none" stroke="#2a2a2a" stroke-width="1.3" stroke-linecap="round" stroke-linejoin="round"><path d="M0.8 0.8 V13.2 H15.4"/><path d="M3.6 9.4 L6.6 5.6 L9.4 7.8 L13.6 4.2"/></svg></div><div class="lb">Progress</div><div class="vl">30%</div></div><div style="height:14.3px"></div><div class="att"><div class="th"><svg class="abs" style="left:10.5px;top:6.5px" width="28" height="37" viewBox="0 0 28 37" fill="none" stroke="#2445ad" stroke-width="2" stroke-linejoin="round" stroke-linecap="round"><path d="M4.6 1.2 H16 L26.8 12 V32.2 A3.6 3.6 0 0 1 23.2 35.8 H4.6 A3.6 3.6 0 0 1 1 32.2 V4.8 A3.6 3.6 0 0 1 4.6 1.2 Z"/><path d="M16 1.2 V9 A3 3 0 0 0 19 12 H26.8"/><path d="M6.4 19 L10.2 30.6 L14.2 20.4 L18.2 30.6 L22 19" stroke-width="2.1"/></svg></div><div class="nm" style="top:15.5px">Tools for entrepreneurs.doc</div></div><div style="height:1px"></div><div class="ft"><svg class="abs" style="left:7.8px;top:10px" width="19" height="16" viewBox="0 0 19 16" fill="none" stroke="#2a2a2a" stroke-width="1.25" stroke-linejoin="round"><path d="M10 0.8 C14.8 0.8 18.2 3.6 18.2 7.2 C18.2 10.8 14.8 13.6 10 13.6 C8.8 13.6 7.6 13.4 6.6 13.1 L1.4 15.2 L3.2 11.6 C2.2 10.4 1.8 8.9 1.8 7.2 C1.8 3.6 5.2 0.8 10 0.8 Z"/></svg><div class="abs" style="left:32.8px;top:0">5</div><div class="abs" style="right:48px;top:0">6h</div><svg class="abs" style="right:7.5px;top:8.5px" width="20" height="20" viewBox="0 0 20 20"><rect x="3.1" y="3.1" width="13.8" height="13.8" rx="3" transform="rotate(45 10 10)" fill="#ea3f2e"/><path d="M6.3 9.3 L10 5.9 L13.7 9.3 M6.3 13.5 L10 10.1 L13.7 13.5" fill="none" stroke="#fff" stroke-width="1.6" stroke-linecap="round" stroke-linejoin="round"/></svg></div></div><div class="card" style="top:502.5px;height:345px;padding-top:12.6px"><div class="tt" style="letter-spacing:0.02px">What are OKRs?</div><div class="tags"><span class="tg" style="background:#9aba1b;width:45.5px;letter-spacing:-0.266px"><span>TOFU</span></span></div><div class="row" style="height:32.55px"><div class="ic"><svg width="13" height="13" viewBox="0 0 13 13" fill="none" stroke="#2a2a2a" stroke-width="1.4" stroke-linecap="round"><path d="M4.6 0.8 L3 12.2 M10 0.8 L8.4 12.2 M1.2 4.2 H12.2 M0.8 8.8 H11.8"/></svg></div><div class="lb sm">Task ID</div><div class="vl">#235710</div></div><div class="row" style="height:33.35px"><div class="ic"><svg width="20" height="13" viewBox="0 0 20 13" fill="none" stroke="#2a2a2a" stroke-width="1.25" stroke-linejoin="round"><circle cx="6.4" cy="3.4" r="2.7"/><path d="M0.7 12.3 V10.6 A2.6 2.6 0 0 1 3.3 8 H9.5 A2.6 2.6 0 0 1 12.1 10.6 V12.3 Z"/><circle cx="15.2" cy="4.4" r="2.1"/><path d="M13.6 8.6 H17 A2.3 2.3 0 0 1 19.3 10.9 V12.3 H14.4"/></svg></div><div class="lb" style="top:.8px">Assignees</div><div class="av" style="left:174.6px;top:4.3px;width:24px;height:24px;background:#1db1d6"><div class="abs" style="left:7px;top:1px;width:15px;height:17px;border-radius:50%;background:#d9ad84"></div><div class="abs" style="left:9.5px;top:4px;width:10.5px;height:13px;border-radius:46%;background:#efc6aa"></div><div class="abs" style="left:12px;top:15px;width:6px;height:5px;background:#e8bb9f"></div><div class="abs" style="left:5px;top:18.5px;width:18px;height:9px;border-radius:50% 50% 0 0;background:#f3efee"></div></div><div class="abs" style="left:198.2px;top:5px;width:22.6px;height:22.6px;border-radius:50%;background:#e7e7ea"></div><svg class="abs" style="left:203.75px;top:10.55px" width="11.5" height="11.5" viewBox="0 0 11.5 11.5" fill="none" stroke="#1a1a1a" stroke-width="1.6" stroke-linecap="round"><path d="M5.75 0.8 V10.7 M0.8 5.75 H10.7"/></svg></div><div class="row" style="height:32.95px"><div class="ic"><svg width="13" height="15" viewBox="0 0 13 15" fill="none" stroke="#2a2a2a"><rect x="0.7" y="2.4" width="11.6" height="11.8" rx="1.3" stroke-width="1.4"/><path d="M0.7 4.2 H12.3" stroke-width="2.6"/><path d="M3.6 0.2 V3 M9.4 0.2 V3" stroke-width="1.7"/></svg></div><div class="lb">Due date</div><div class="vl">30 May</div></div><div class="row nb" style="height:32.95px"><div class="ic"><svg width="16" height="14" viewBox="0 0 16 14" fill="none" stroke="#2a2a2a" stroke-width="1.3" stroke-linecap="round" stroke-linejoin="round"><path d="M0.8 0.8 V13.2 H15.4"/><path d="M3.6 9.4 L6.6 5.6 L9.4 7.8 L13.6 4.2"/></svg></div><div class="lb">Progress</div><div class="vl">30%</div></div><div style="height:12.200000000000001px"></div><div class="att"><div class="th"><svg class="abs" style="left:10.5px;top:6.5px" width="28" height="37" viewBox="0 0 28 37" fill="none" stroke="#2445ad" stroke-width="2" stroke-linejoin="round" stroke-linecap="round"><path d="M4.6 1.2 H16 L26.8 12 V32.2 A3.6 3.6 0 0 1 23.2 35.8 H4.6 A3.6 3.6 0 0 1 1 32.2 V4.8 A3.6 3.6 0 0 1 4.6 1.2 Z"/><path d="M16 1.2 V9 A3 3 0 0 0 19 12 H26.8"/><path d="M6.4 19 L10.2 30.6 L14.2 20.4 L18.2 30.6 L22 19" stroke-width="2.1"/></svg></div><div class="nm" style="top:15.5px;letter-spacing:-.3px">What are OK...</div><svg class="abs" style="left:245px;top:17.5px" width="16" height="14" viewBox="0 0 16 14"><path d="M5.4 0.2 H10.6 L15.9 9.2 H10.7 Z M4.6 1.4 L7.2 5.8 L2.7 13.6 L0.1 9.2 Z M5.9 9.9 H15.5 L13 13.9 H3.6 Z" fill="#111"/></svg></div><div style="height:2px"></div><div class="ft"><svg class="abs" style="left:7.8px;top:10px" width="19" height="16" viewBox="0 0 19 16" fill="none" stroke="#2a2a2a" stroke-width="1.25" stroke-linejoin="round"><path d="M10 0.8 C14.8 0.8 18.2 3.6 18.2 7.2 C18.2 10.8 14.8 13.6 10 13.6 C8.8 13.6 7.6 13.4 6.6 13.1 L1.4 15.2 L3.2 11.6 C2.2 10.4 1.8 8.9 1.8 7.2 C1.8 3.6 5.2 0.8 10 0.8 Z"/></svg><div class="abs" style="left:32.8px;top:0">3</div><div class="abs" style="right:48px;top:0">4h</div><svg class="abs" style="right:7.5px;top:8.5px" width="20" height="20" viewBox="0 0 20 20"><rect x="3.1" y="3.1" width="13.8" height="13.8" rx="3" transform="rotate(45 10 10)" fill="#ea3f2e"/><path d="M6.3 9.3 L10 5.9 L13.7 9.3 M6.3 13.5 L10 10.1 L13.7 13.5" fill="none" stroke="#fff" stroke-width="1.6" stroke-linecap="round" stroke-linejoin="round"/></svg></div></div></div>
<div class="col" style="left:746px"><div class="ch" style="letter-spacing:0.138px">Production</div><div class="bd" style="left:91px;background:#5b7b8c">3</div><svg class="abs" style="left:272px;top:90.5px" width="13" height="13" viewBox="0 0 13 13" fill="none" stroke="#1a1a1a" stroke-width="1.9" stroke-linecap="round"><path d="M6.5 0.8 V12.2 M0.8 6.5 H12.2"/></svg><div class="pp"><svg class="abs" style="left:5.2px;top:3.6px" width="11" height="11" viewBox="0 0 11 11" fill="#3a3a3a"><circle cx="5.5" cy="2.9" r="2.7"/><path d="M0.3 10.8 V9.2 A2.8 2.8 0 0 1 3.1 6.4 H7.9 A2.8 2.8 0 0 1 10.7 9.2 V10.8 Z"/></svg><span class="abs" style="left:21.5px;top:0">1</span></div><div class="card" style="top:133px;height:367.7px"><div class="tt" style="letter-spacing:0.576px">How to automate repetitive tasks</div><div class="tags"><span class="tg" style="background:#3552bf;width:85.4px;letter-spacing:-0.084px"><span>In-progress</span></span><span class="tg" style="background:#ee5b93;width:50px;letter-spacing:-0.102px"><span>MOFU</span></span></div><div class="row" style="height:32.3px"><div class="ic"><svg width="13" height="13" viewBox="0 0 13 13" fill="none" stroke="#2a2a2a" stroke-width="1.4" stroke-linecap="round"><path d="M4.6 0.8 L3 12.2 M10 0.8 L8.4 12.2 M1.2 4.2 H12.2 M0.8 8.8 H11.8"/></svg></div><div class="lb sm">Task ID</div><div class="vl">#235686</div></div><div class="row" style="height:33.1px"><div class="ic"><svg width="20" height="13" viewBox="0 0 20 13" fill="none" stroke="#2a2a2a" stroke-width="1.25" stroke-linejoin="round"><circle cx="6.4" cy="3.4" r="2.7"/><path d="M0.7 12.3 V10.6 A2.6 2.6 0 0 1 3.3 8 H9.5 A2.6 2.6 0 0 1 12.1 10.6 V12.3 Z"/><circle cx="15.2" cy="4.4" r="2.1"/><path d="M13.6 8.6 H17 A2.3 2.3 0 0 1 19.3 10.9 V12.3 H14.4"/></svg></div><div class="lb" style="top:.8px">Assignees</div><div class="av" style="left:174.6px;top:4.3px;width:24px;height:24px;background:#9d2aa6"><div class="abs" style="left:6px;top:1px;width:12.5px;height:11px;border-radius:50% 50% 30% 30%;background:#1c1718"></div><div class="abs" style="left:7.5px;top:5px;width:9.5px;height:12.5px;border-radius:44%;background:#d6a180"></div><div class="abs" style="left:9.5px;top:15px;width:5.5px;height:5px;background:#cc9775"></div><div class="abs" style="left:3.5px;top:18.5px;width:17px;height:9px;border-radius:50% 50% 0 0;background:#edecef"></div></div><div class="abs" style="left:198.2px;top:5px;width:22.6px;height:22.6px;border-radius:50%;background:#e7e7ea"></div><svg class="abs" style="left:203.75px;top:10.55px" width="11.5" height="11.5" viewBox="0 0 11.5 11.5" fill="none" stroke="#1a1a1a" stroke-width="1.6" stroke-linecap="round"><path d="M5.75 0.8 V10.7 M0.8 5.75 H10.7"/></svg></div><div class="row nb" style="height:32.7px"><div class="ic"><svg width="13" height="15" viewBox="0 0 13 15" fill="none" stroke="#2a2a2a"><rect x="0.7" y="2.4" width="11.6" height="11.8" rx="1.3" stroke-width="1.4"/><path d="M0.7 4.2 H12.3" stroke-width="2.6"/><path d="M3.6 0.2 V3 M9.4 0.2 V3" stroke-width="1.7"/></svg></div><div class="lb">Due date</div><div class="vl">23 May</div></div><div style="height:14.3px"></div><div class="att" style="margin-bottom:6px"><div class="th" style="background:#69d07b"><div class="abs" style="left:9px;top:5.5px;width:41px;height:40px;background:#f7f7f8"></div><div class="abs" style="left:9px;top:11px;width:2.2px;height:34.5px;background:#0c0c0c"></div><div class="abs" style="left:11px;top:10.5px;width:39px;height:1px;background:#dcdcdc"></div><div class="abs" style="left:11.2px;top:11.5px;width:14px;height:34px;background:#ececee"></div><div class="abs" style="left:28.5px;top:19.5px;width:10px;height:24px;background:linear-gradient(#c4c4c6 0 8%,#d6d6d8 8% 14%,#c6c6c8 14% 24%,#e2e2e4 24% 30%,#cfcfd1 30% 52%,#e6e6e8 52% 60%,#cdcdcf 60% 68%,#e8e8ea 68% 76%,#dcdcde 76% 100%)"></div><div class="abs" style="left:41px;top:19.5px;width:9px;height:16px;background:linear-gradient(#c4c4c6 0 22%,#e4e4e6 22% 36%,#cacacc 36% 46%,#ededee 46% 58%,#d0d0d2 58% 68%,#efeff0 68% 82%,#d4d4d6 82% 100%)"></div></div><div class="nm" style="top:5px">feature image.jpeg</div><div class="pf">Proof this file</div></div><div class="att"><div class="th"><svg class="abs" style="left:10.5px;top:6.5px" width="28" height="37" viewBox="0 0 28 37" fill="none" stroke="#2445ad" stroke-width="2" stroke-linejoin="round" stroke-linecap="round"><path d="M4.6 1.2 H16 L26.8 12 V32.2 A3.6 3.6 0 0 1 23.2 35.8 H4.6 A3.6 3.6 0 0 1 1 32.2 V4.8 A3.6 3.6 0 0 1 4.6 1.2 Z"/><path d="M16 1.2 V9 A3 3 0 0 0 19 12 H26.8"/><path d="M6.4 19 L10.2 30.6 L14.2 20.4 L18.2 30.6 L22 19" stroke-width="2.1"/></svg></div><div class="nm" style="top:15.5px">how to automate...</div><svg class="abs" style="left:245px;top:17.5px" width="16" height="14" viewBox="0 0 16 14"><path d="M5.4 0.2 H10.6 L15.9 9.2 H10.7 Z M4.6 1.4 L7.2 5.8 L2.7 13.6 L0.1 9.2 Z M5.9 9.9 H15.5 L13 13.9 H3.6 Z" fill="#111"/></svg></div><div style="height:1px"></div><div class="ft"><svg class="abs" style="left:7.8px;top:10px" width="19" height="16" viewBox="0 0 19 16" fill="none" stroke="#2a2a2a" stroke-width="1.25" stroke-linejoin="round"><path d="M10 0.8 C14.8 0.8 18.2 3.6 18.2 7.2 C18.2 10.8 14.8 13.6 10 13.6 C8.8 13.6 7.6 13.4 6.6 13.1 L1.4 15.2 L3.2 11.6 C2.2 10.4 1.8 8.9 1.8 7.2 C1.8 3.6 5.2 0.8 10 0.8 Z"/></svg><div class="abs" style="left:32.8px;top:0">6</div><div class="abs" style="right:48px;top:0">2d</div><svg class="abs" style="right:7.5px;top:8.5px" width="20" height="20" viewBox="0 0 20 20"><rect x="3.1" y="3.1" width="13.8" height="13.8" rx="3" transform="rotate(45 10 10)" fill="#ea3f2e"/><path d="M6.3 9.3 L10 5.9 L13.7 9.3 M6.3 13.5 L10 10.1 L13.7 13.5" fill="none" stroke="#fff" stroke-width="1.6" stroke-linecap="round" stroke-linejoin="round"/></svg></div></div><div class="card" style="top:526.7px;height:348px"><div class="tt" style="letter-spacing:0.515px">Project manager daily tasks</div><div class="tags"><span class="tg" style="background:#ee4a30;width:52.9px;letter-spacing:-0.211px"><span>Urgent</span></span><span class="tg" style="background:#9aba1b;width:45.5px;letter-spacing:-0.266px"><span>TOFU</span></span></div><div class="row" style="height:32.3px"><div class="ic"><svg width="13" height="13" viewBox="0 0 13 13" fill="none" stroke="#2a2a2a" stroke-width="1.4" stroke-linecap="round"><path d="M4.6 0.8 L3 12.2 M10 0.8 L8.4 12.2 M1.2 4.2 H12.2 M0.8 8.8 H11.8"/></svg></div><div class="lb sm">Task ID</div><div class="vl">#235710</div></div><div class="row" style="height:33.1px"><div class="ic"><svg width="20" height="13" viewBox="0 0 20 13" fill="none" stroke="#2a2a2a" stroke-width="1.25" stroke-linejoin="round"><circle cx="6.4" cy="3.4" r="2.7"/><path d="M0.7 12.3 V10.6 A2.6 2.6 0 0 1 3.3 8 H9.5 A2.6 2.6 0 0 1 12.1 10.6 V12.3 Z"/><circle cx="15.2" cy="4.4" r="2.1"/><path d="M13.6 8.6 H17 A2.3 2.3 0 0 1 19.3 10.9 V12.3 H14.4"/></svg></div><div class="lb" style="top:.8px">Assignees</div><div class="av" style="left:174.6px;top:4.3px;width:24px;height:24px;background:#f6b81c"><div class="abs" style="left:7px;top:1.5px;width:10.5px;height:9px;border-radius:50% 50% 30% 30%;background:#3a2a22"></div><div class="abs" style="left:7.5px;top:4.5px;width:9.5px;height:13px;border-radius:44%;background:#d8a27c"></div><div class="abs" style="left:8px;top:12px;width:8.5px;height:6px;border-radius:30% 30% 50% 50%;background:#9a6c50"></div><div class="abs" style="left:4px;top:19px;width:16.5px;height:9px;border-radius:45% 45% 0 0;background:#15161a"></div><div class="abs" style="left:10px;top:18px;width:5px;height:8px;background:#e9e4e0;clip-path:polygon(0 0,100% 0,50% 100%)"></div></div><div class="abs" style="left:198.2px;top:5px;width:22.6px;height:22.6px;border-radius:50%;background:#e7e7ea"></div><svg class="abs" style="left:203.75px;top:10.55px" width="11.5" height="11.5" viewBox="0 0 11.5 11.5" fill="none" stroke="#1a1a1a" stroke-width="1.6" stroke-linecap="round"><path d="M5.75 0.8 V10.7 M0.8 5.75 H10.7"/></svg></div><div class="row" style="height:32.7px"><div class="ic"><svg width="13" height="15" viewBox="0 0 13 15" fill="none" stroke="#2a2a2a"><rect x="0.7" y="2.4" width="11.6" height="11.8" rx="1.3" stroke-width="1.4"/><path d="M0.7 4.2 H12.3" stroke-width="2.6"/><path d="M3.6 0.2 V3 M9.4 0.2 V3" stroke-width="1.7"/></svg></div><div class="lb">Due date</div><div class="vl">22 May</div></div><div class="row nb" style="height:32.7px"><div class="ic"><svg width="16" height="14" viewBox="0 0 16 14" fill="none" stroke="#2a2a2a" stroke-width="1.3" stroke-linecap="round" stroke-linejoin="round"><path d="M0.8 0.8 V13.2 H15.4"/><path d="M3.6 9.4 L6.6 5.6 L9.4 7.8 L13.6 4.2"/></svg></div><div class="lb">Progress</div><div class="vl">80%</div></div><div style="height:14.3px"></div><div class="att" style="margin-bottom:6px"><div class="th" style="background:#3f7ac7"><div class="abs" style="left:0;top:2px;width:15px;height:12px;border-radius:3px 6px 0 0;background:#d874d6"></div><div class="abs" style="left:0;top:13px;width:16px;height:9px;border-radius:0 0 6px 3px;background:#e3217b"></div><div class="abs" style="left:8px;top:3px;width:3.5px;height:3.5px;border-radius:50%;background:#fff"></div><div class="abs" style="left:0;top:24px;width:6px;height:11px;background:#f4f4fa"></div><div class="abs" style="left:33px;top:5px;width:17px;height:10px;border-radius:3px;background:#f5a8c9"></div><div class="abs" style="left:34px;top:13px;width:16px;height:16px;border-radius:3px;background:#e8548f"></div><div class="abs" style="left:38px;top:13.5px;width:9px;height:5px;background:#dfe6f7"></div><div class="abs" style="left:46.5px;top:8.5px;width:3.5px;height:3.5px;border-radius:50%;background:#fff"></div><div class="abs" style="left:40px;top:22px;width:10px;height:11.5px;background:repeating-linear-gradient(90deg,#f29a2e 0 1.6px,#f6c27a 1.6px 2.6px)"></div><div class="abs" style="left:13px;top:10px;width:20px;height:18px;border-radius:50%;background:#121016"></div><div class="abs" style="left:16px;top:8px;width:6px;height:6px;border-radius:50%;background:#121016"></div><div class="abs" style="left:19px;top:14.5px;width:11px;height:14px;border-radius:45%;background:#f6baa4"></div><div class="abs" style="left:10px;top:27.5px;width:33px;height:21px;border-radius:45% 45% 30% 30%;background:#f4a2bf"></div><div class="abs" style="left:21px;top:25px;width:9px;height:9px;background:#f6baa4;clip-path:polygon(0 0,100% 0,60% 100%,40% 100%)"></div><div class="abs" style="left:23.5px;top:35.5px;width:9.5px;height:11px;border-radius:2px;background:#17141a"></div><div class="abs" style="left:27px;top:39px;width:8px;height:6px;border-radius:40%;background:#f6baa4"></div><div class="abs" style="left:15.5px;top:47px;width:19px;height:3px;background:#121016"></div></div><div class="nm" style="top:5px">Project manager daily tasks...</div><div class="pf">Proof this file</div></div><div class="att"><div class="th"><svg class="abs" style="left:10.5px;top:6.5px" width="28" height="37" viewBox="0 0 28 37" fill="none" stroke="#2445ad" stroke-width="2" stroke-linejoin="round" stroke-linecap="round"><path d="M4.6 1.2 H16 L26.8 12 V32.2 A3.6 3.6 0 0 1 23.2 35.8 H4.6 A3.6 3.6 0 0 1 1 32.2 V4.8 A3.6 3.6 0 0 1 4.6 1.2 Z"/><path d="M16 1.2 V9 A3 3 0 0 0 19 12 H26.8"/><path d="M6.4 19 L10.2 30.6 L14.2 20.4 L18.2 30.6 L22 19" stroke-width="2.1"/></svg></div><div class="nm" style="top:15.5px">project manager...</div><svg class="abs" style="left:245px;top:17.5px" width="16" height="14" viewBox="0 0 16 14"><path d="M5.4 0.2 H10.6 L15.9 9.2 H10.7 Z M4.6 1.4 L7.2 5.8 L2.7 13.6 L0.1 9.2 Z M5.9 9.9 H15.5 L13 13.9 H3.6 Z" fill="#111"/></svg></div><div style="height:1px"></div></div></div>
<div class="col" style="left:1108.5px"><div class="ch" style="letter-spacing:-0.445px">Review</div><div class="bd" style="left:61.5px;background:#f9b91f">2</div><div class="card" style="top:133px;height:407px"><div class="tt" style="letter-spacing:0.48px">How to better handle<br>deadlines as a</div><div class="tags"><span class="tg" style="background:#ee5b93;width:50px;letter-spacing:-0.102px"><span>MOFU</span></span></div><div class="row" style="height:32.3px"><div class="ic"><svg width="13" height="13" viewBox="0 0 13 13" fill="none" stroke="#2a2a2a" stroke-width="1.4" stroke-linecap="round"><path d="M4.6 0.8 L3 12.2 M10 0.8 L8.4 12.2 M1.2 4.2 H12.2 M0.8 8.8 H11.8"/></svg></div><div class="lb sm">Task ID</div></div><div class="row" style="height:33.1px"><div class="ic"><svg width="20" height="13" viewBox="0 0 20 13" fill="none" stroke="#2a2a2a" stroke-width="1.25" stroke-linejoin="round"><circle cx="6.4" cy="3.4" r="2.7"/><path d="M0.7 12.3 V10.6 A2.6 2.6 0 0 1 3.3 8 H9.5 A2.6 2.6 0 0 1 12.1 10.6 V12.3 Z"/><circle cx="15.2" cy="4.4" r="2.1"/><path d="M13.6 8.6 H17 A2.3 2.3 0 0 1 19.3 10.9 V12.3 H14.4"/></svg></div><div class="lb" style="top:.8px">Assignees</div></div><div class="row" style="height:38.5px"><div class="ic"><svg width="13" height="15" viewBox="0 0 13 15" fill="none" stroke="#2a2a2a"><rect x="0.7" y="2.4" width="11.6" height="11.8" rx="1.3" stroke-width="1.4"/><path d="M0.7 4.2 H12.3" stroke-width="2.6"/><path d="M3.6 0.2 V3 M9.4 0.2 V3" stroke-width="1.7"/></svg></div><div class="lb">Start date</div></div><div class="row" style="height:33.5px"><div class="ic"><svg width="13" height="15" viewBox="0 0 13 15" fill="none" stroke="#2a2a2a"><rect x="0.7" y="2.4" width="11.6" height="11.8" rx="1.3" stroke-width="1.4"/><path d="M0.7 4.2 H12.3" stroke-width="2.6"/><path d="M3.6 0.2 V3 M9.4 0.2 V3" stroke-width="1.7"/></svg></div><div class="lb">Due date</div></div><div class="row nb" style="height:32.7px"><div class="ic"><svg width="16" height="14" viewBox="0 0 16 14" fill="none" stroke="#2a2a2a" stroke-width="1.3" stroke-linecap="round" stroke-linejoin="round"><path d="M0.8 0.8 V13.2 H15.4"/><path d="M3.6 9.4 L6.6 5.6 L9.4 7.8 L13.6 4.2"/></svg></div><div class="lb">Progress</div></div><div style="height:14.3px"></div><div class="att"><div class="th"><svg class="abs" style="left:10.5px;top:6.5px" width="28" height="37" viewBox="0 0 28 37" fill="none" stroke="#2445ad" stroke-width="2" stroke-linejoin="round" stroke-linecap="round"><path d="M4.6 1.2 H16 L26.8 12 V32.2 A3.6 3.6 0 0 1 23.2 35.8 H4.6 A3.6 3.6 0 0 1 1 32.2 V4.8 A3.6 3.6 0 0 1 4.6 1.2 Z"/><path d="M16 1.2 V9 A3 3 0 0 0 19 12 H26.8"/><path d="M6.4 19 L10.2 30.6 L14.2 20.4 L18.2 30.6 L22 19" stroke-width="2.1"/></svg></div><div class="nm" style="top:15.5px">How to</div></div><div style="height:1px"></div><div class="ft"><svg class="abs" style="left:7.8px;top:10px" width="19" height="16" viewBox="0 0 19 16" fill="none" stroke="#2a2a2a" stroke-width="1.25" stroke-linejoin="round"><path d="M10 0.8 C14.8 0.8 18.2 3.6 18.2 7.2 C18.2 10.8 14.8 13.6 10 13.6 C8.8 13.6 7.6 13.4 6.6 13.1 L1.4 15.2 L3.2 11.6 C2.2 10.4 1.8 8.9 1.8 7.2 C1.8 3.6 5.2 0.8 10 0.8 Z"/></svg><div class="abs" style="left:32.8px;top:0">2</div></div></div><div class="card" style="top:565.5px;height:345px"><div class="tt" style="letter-spacing:0.48px">Making mistakes</div><div class="tags"><span class="tg" style="background:#9aba1b;width:45.5px;letter-spacing:-0.266px"><span>TOFU</span></span></div><div class="row" style="height:32.3px"><div class="ic"><svg width="13" height="13" viewBox="0 0 13 13" fill="none" stroke="#2a2a2a" stroke-width="1.4" stroke-linecap="round"><path d="M4.6 0.8 L3 12.2 M10 0.8 L8.4 12.2 M1.2 4.2 H12.2 M0.8 8.8 H11.8"/></svg></div><div class="lb sm">Task ID</div></div><div class="row" style="height:33.1px"><div class="ic"><svg width="20" height="13" viewBox="0 0 20 13" fill="none" stroke="#2a2a2a" stroke-width="1.25" stroke-linejoin="round"><circle cx="6.4" cy="3.4" r="2.7"/><path d="M0.7 12.3 V10.6 A2.6 2.6 0 0 1 3.3 8 H9.5 A2.6 2.6 0 0 1 12.1 10.6 V12.3 Z"/><circle cx="15.2" cy="4.4" r="2.1"/><path d="M13.6 8.6 H17 A2.3 2.3 0 0 1 19.3 10.9 V12.3 H14.4"/></svg></div><div class="lb" style="top:.8px">Assignees</div></div><div class="row" style="height:32.7px"><div class="ic"><svg width="13" height="15" viewBox="0 0 13 15" fill="none" stroke="#2a2a2a"><rect x="0.7" y="2.4" width="11.6" height="11.8" rx="1.3" stroke-width="1.4"/><path d="M0.7 4.2 H12.3" stroke-width="2.6"/><path d="M3.6 0.2 V3 M9.4 0.2 V3" stroke-width="1.7"/></svg></div><div class="lb">Due date</div></div><div class="row nb" style="height:32.7px"><div class="ic"><svg width="16" height="14" viewBox="0 0 16 14" fill="none" stroke="#2a2a2a" stroke-width="1.3" stroke-linecap="round" stroke-linejoin="round"><path d="M0.8 0.8 V13.2 H15.4"/><path d="M3.6 9.4 L6.6 5.6 L9.4 7.8 L13.6 4.2"/></svg></div><div class="lb">Progress</div></div><div style="height:14.3px"></div><div class="att"><div class="th"><svg class="abs" style="left:10.5px;top:6.5px" width="28" height="37" viewBox="0 0 28 37" fill="none" stroke="#2445ad" stroke-width="2" stroke-linejoin="round" stroke-linecap="round"><path d="M4.6 1.2 H16 L26.8 12 V32.2 A3.6 3.6 0 0 1 23.2 35.8 H4.6 A3.6 3.6 0 0 1 1 32.2 V4.8 A3.6 3.6 0 0 1 4.6 1.2 Z"/><path d="M16 1.2 V9 A3 3 0 0 0 19 12 H26.8"/><path d="M6.4 19 L10.2 30.6 L14.2 20.4 L18.2 30.6 L22 19" stroke-width="2.1"/></svg></div><div class="nm" style="top:15.5px">Making</div></div><div style="height:1px"></div><div class="ft"></div></div></div>
<!--/COLS--></div>
</body>
</html>
